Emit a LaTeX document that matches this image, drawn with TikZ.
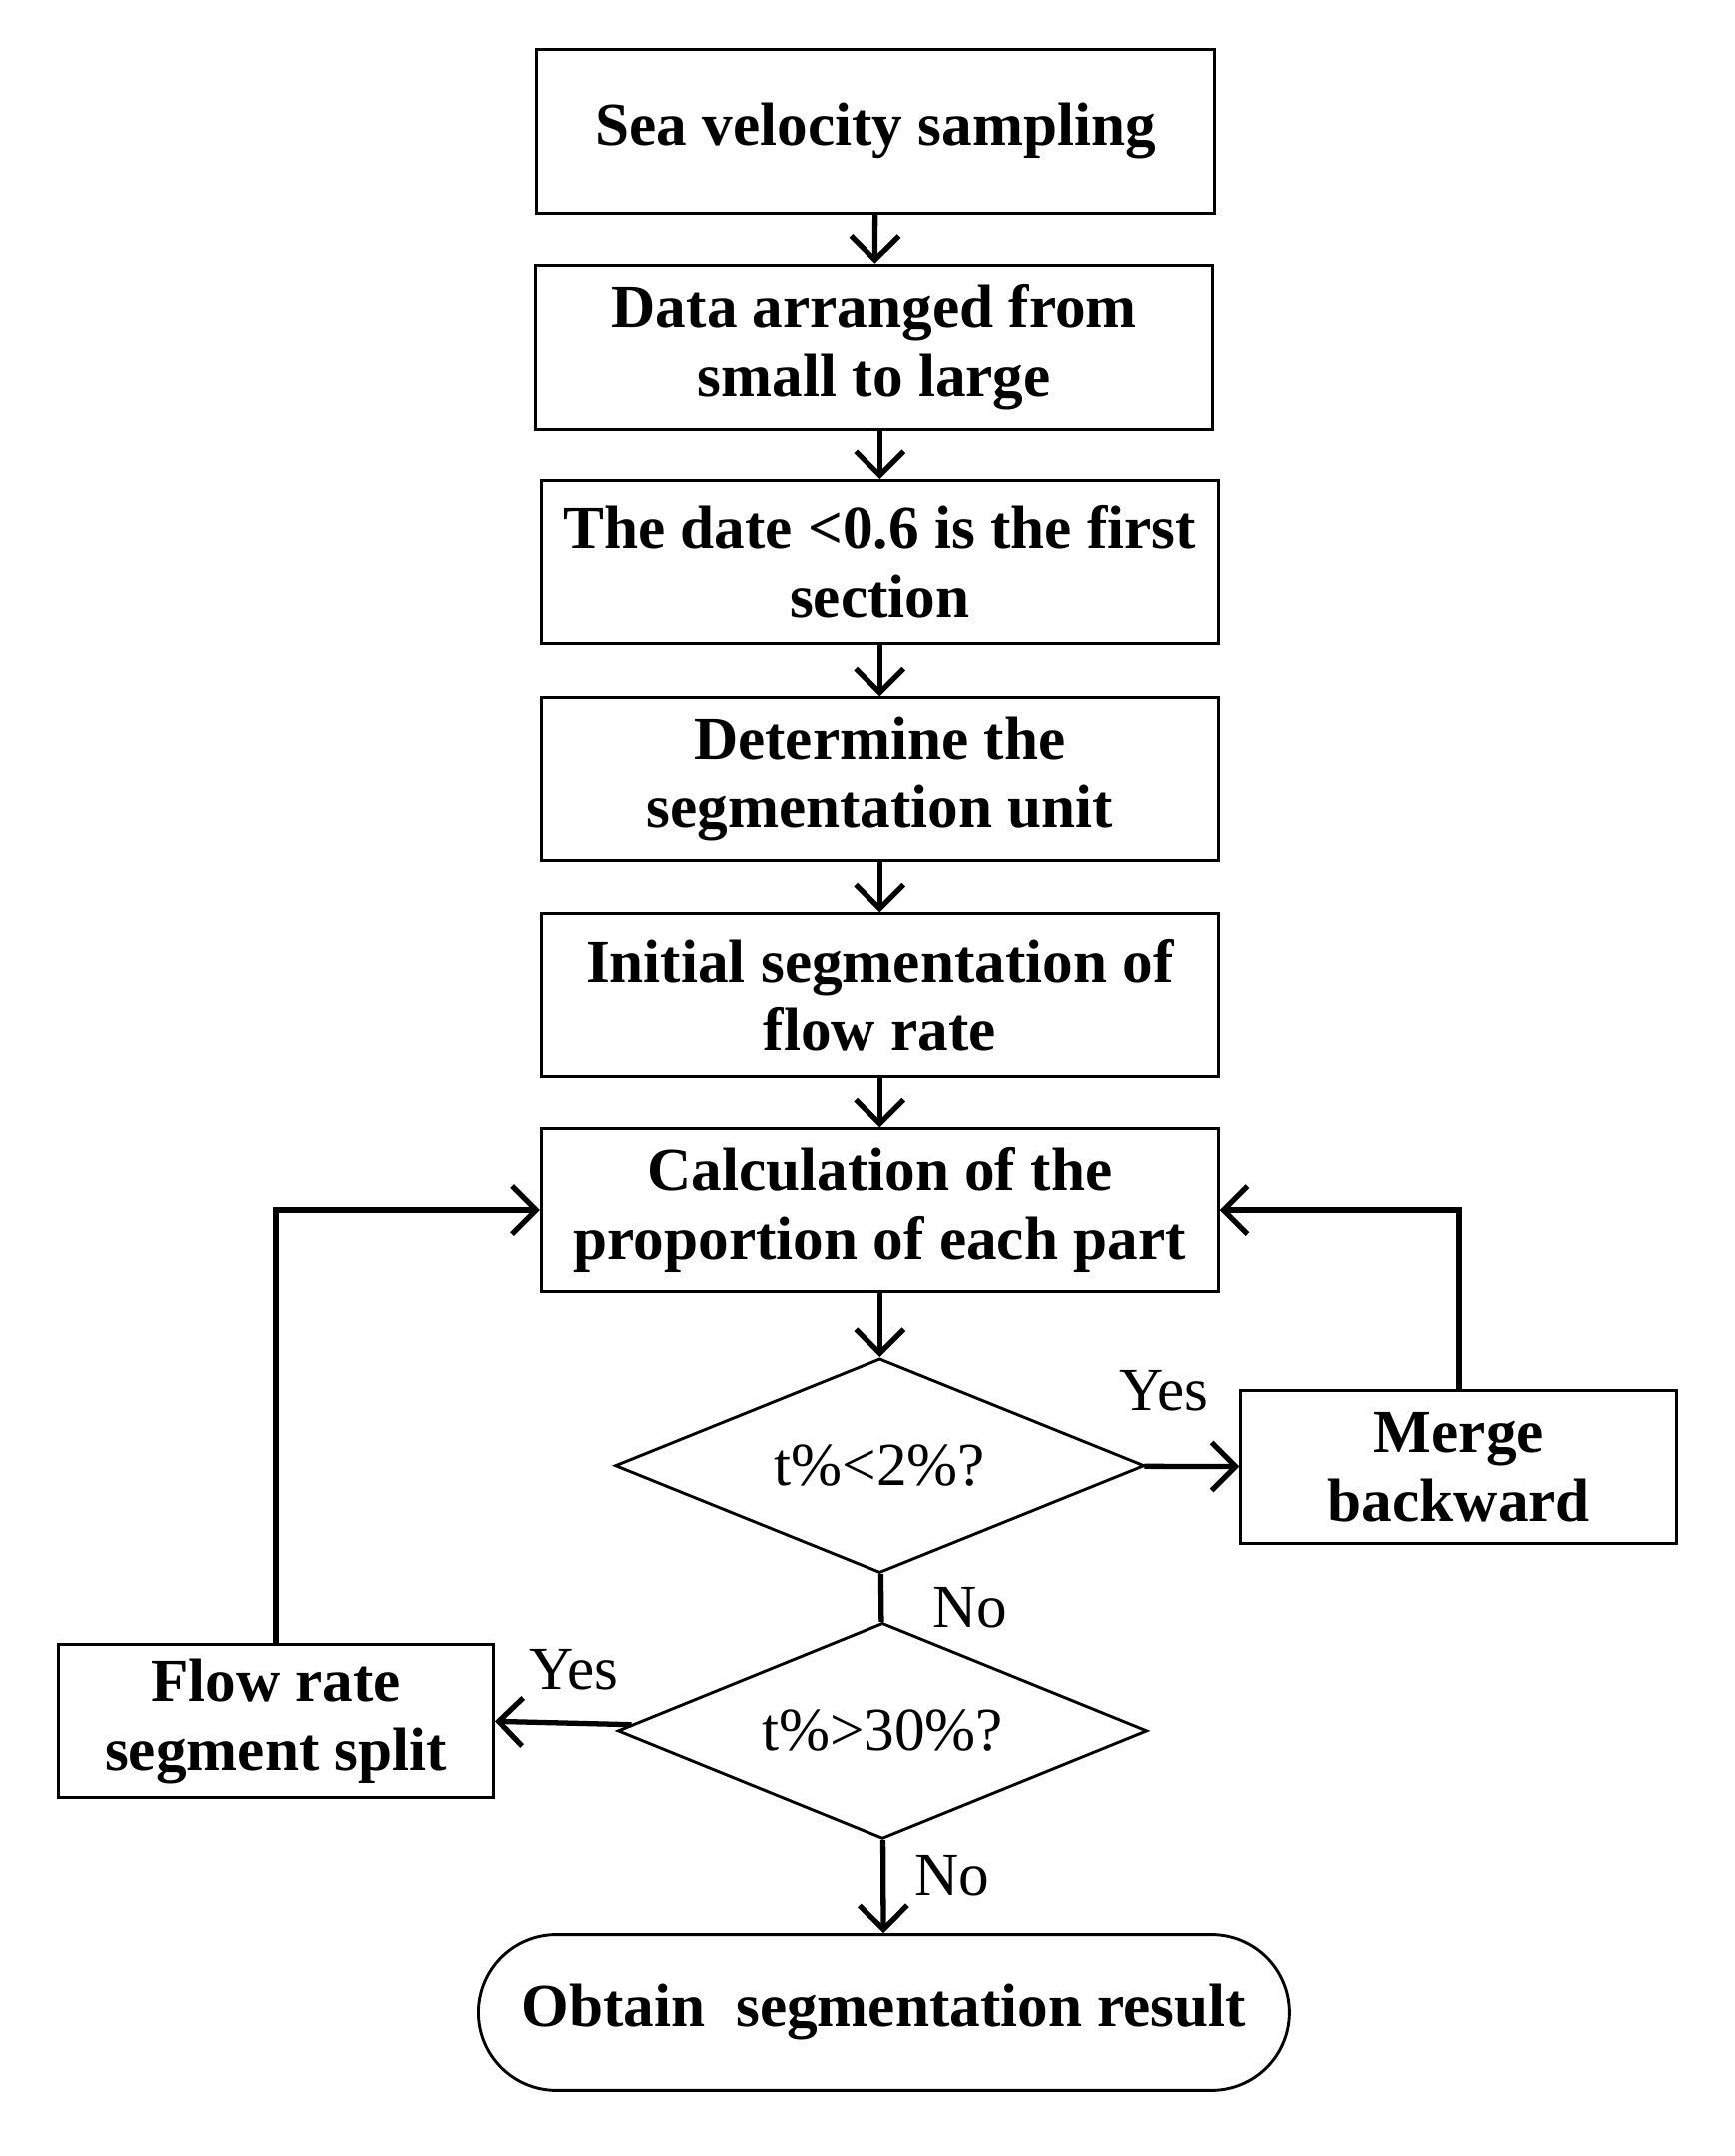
\documentclass[tikz,border=0pt]{standalone}
\usepackage{fontspec}
\setmainfont{Liberation Serif}
\usetikzlibrary{arrows.meta,shapes.geometric}
\begin{document}
\begin{tikzpicture}[x=0.02cm,y=-0.02cm,
 box/.style={draw,line width=1.2pt,inner sep=0pt,align=center,font=\fontsize{25.5}{28.5}\selectfont\bfseries},
 arr/.style={line width=2.2pt,-{Straight Barb[length=10pt,width=20pt,line width=2.2pt]}},
 lab/.style={font=\fontsize{25.5}{28}\selectfont}]
\useasboundingbox (0,0) rectangle (1270,1578);
\node[box,minimum width=497*0.02cm,minimum height=120*0.02cm] (b1) at (641,96) {Sea velocity sampling};
\node[box,minimum width=496*0.02cm,minimum height=120*0.02cm] (b2) at (640,254) {Data arranged from\\small to large};
\node[box,minimum width=496*0.02cm,minimum height=119*0.02cm] (b3) at (644,411) {The date {<}0.6 is the first\\section};
\node[box,minimum width=496*0.02cm,minimum height=119*0.02cm] (b4) at (644,570) {Determine the\\segmentation unit};
\node[box,minimum width=496*0.02cm,minimum height=119*0.02cm] (b5) at (644,728) {Initial segmentation of\\flow rate};
\node[box,minimum width=496*0.02cm,minimum height=119*0.02cm] (b6) at (644,886) {Calculation of the\\proportion of each part};
\node[draw,line width=1.2pt,diamond,aspect=2.47,minimum width=388*0.02cm,minimum height=157*0.02cm,inner sep=0pt,font=\fontsize{25.5}{28}\selectfont] (d1) at (644,1073) {t\%{<}2\%?};
\node[box,minimum width=319*0.02cm,minimum height=112*0.02cm] (m) at (1068,1074) {Merge\\backward};
\node[draw,line width=1.2pt,diamond,aspect=2.47,minimum width=388*0.02cm,minimum height=158*0.02cm,inner sep=0pt,font=\fontsize{25.5}{28}\selectfont] (d2) at (646,1267) {t\%{>}30\%?};
\node[box,minimum width=318*0.02cm,minimum height=112*0.02cm] (f) at (202,1260) {Flow rate\\segment split};
\node[box,rounded corners=57*0.02cm,minimum width=594*0.02cm,minimum height=114*0.02cm] (e) at (647,1473) {Obtain\ \ segmentation result};
\draw[arr] (b1) -- (b2);
\draw[arr] (b2.south -| b3) -- (b3);
\draw[arr] (b3) -- (b4);
\draw[arr] (b4) -- (b5);
\draw[arr] (b5) -- (b6);
\draw[arr] (b6) -- (d1);
\draw[arr] (d1) -- (m);
\draw[line width=2.2pt] (d1) -- (d2);
\draw[arr] (d2) -- (f.east);
\draw[arr] (d2) -- (e);
\draw[arr] (f.north) |- (b6.west);
\draw[arr] (m.north) |- (b6.east);
\node[lab] at (852,1018) {Yes};
\node[lab] at (710,1177) {No};
\node[lab] at (420,1222) {Yes};
\node[lab] at (697,1373) {No};
\end{tikzpicture}
\end{document}
